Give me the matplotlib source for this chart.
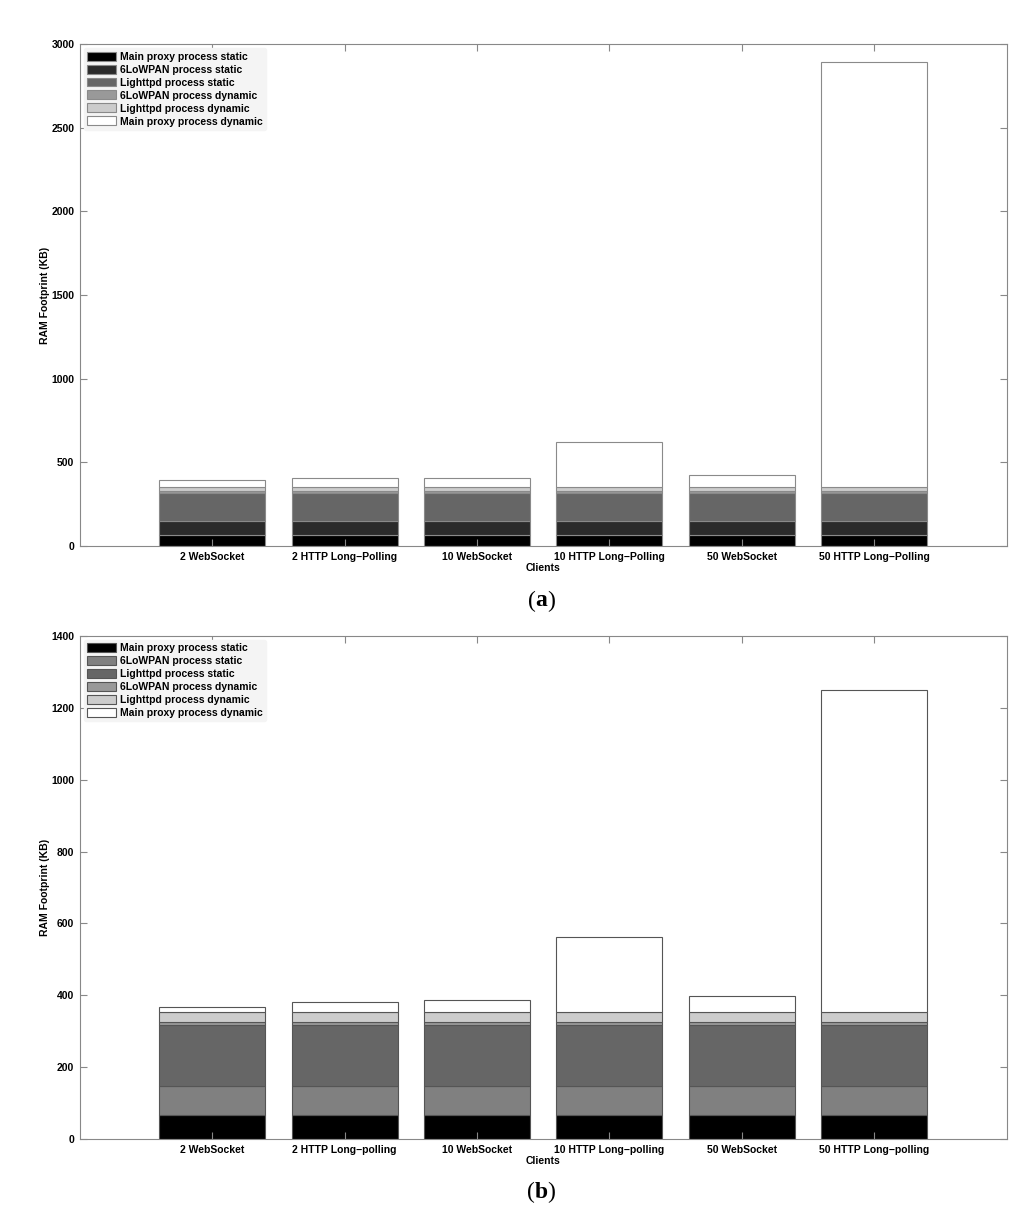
"""Stacked RAM footprint bars for the two proxy set-ups (a) and (b)."""

import matplotlib.pyplot as plt
import numpy as np

plt.rcParams["font.family"] = ["Liberation Sans", "DejaVu Sans"]

layers = [
    "Main proxy process static",
    "6LoWPAN process static",
    "Lighttpd process static",
    "6LoWPAN process dynamic",
    "Lighttpd process dynamic",
    "Main proxy process dynamic",
]

clients_a = ["2 WebSocket", "2 HTTP Long\u2212Polling", "10 WebSocket",
             "10 HTTP Long\u2212Polling", "50 WebSocket", "50 HTTP Long\u2212Polling"]
clients_b = ["2 WebSocket", "2 HTTP Long\u2212polling", "10 WebSocket",
             "10 HTTP Long\u2212polling", "50 WebSocket", "50 HTTP Long\u2212polling"]

# KB per layer, one value per client scenario
main_static_a = [66, 66, 66, 66, 66, 66]
lowpan_static_a = [82, 82, 82, 82, 82, 82]
lighttpd_static_a = [171, 171, 171, 171, 171, 171]
lowpan_dynamic_a = [7, 7, 7, 7, 7, 7]
lighttpd_dynamic_a = [25, 25, 25, 25, 25, 25]
main_dynamic_a = [42, 57, 57, 272, 75, 2542]

main_static_b = [67, 67, 67, 67, 67, 67]
lowpan_static_b = [82, 82, 82, 82, 82, 82]
lighttpd_static_b = [169, 169, 169, 169, 169, 169]
lowpan_dynamic_b = [8, 8, 8, 8, 8, 8]
lighttpd_dynamic_b = [28, 28, 28, 28, 28, 28]
main_dynamic_b = [13, 27, 32, 207, 45, 896]

colors_a = ["#000000", "#2b2b2b", "#666666", "#999999", "#cccccc", "#ffffff"]
colors_b = ["#000000", "#808080", "#666666", "#999999", "#cccccc", "#ffffff"]


def draw_panel(ax, labels, series, colors, ymax, ystep, edge):
    x = np.arange(1, len(labels) + 1)
    bottom = np.zeros(len(labels))
    for name, vals, col in zip(layers, series, colors):
        vals = np.asarray(vals, dtype=float)
        ax.bar(x, vals, 0.8, bottom=bottom, color=col, edgecolor=edge,
               linewidth=0.8, label=name)
        bottom += vals
    ax.set_xlim(0, 7)
    ax.set_ylim(0, ymax)
    ax.set_xticks(x)
    ax.set_xticklabels(labels, fontsize=7.5, fontweight="bold")
    ax.set_yticks(np.arange(0, ymax + 1, ystep))
    for t in ax.get_yticklabels():
        t.set_fontsize(7.5)
        t.set_fontweight("bold")
    ax.tick_params(direction="in", top=True, right=True, length=5,
                   color="#888888", pad=4)
    for s in ax.spines.values():
        s.set_color("#888888")
        s.set_linewidth(0.8)
    ax.set_xlabel("Clients", fontsize=7.5, fontweight="bold", labelpad=1)
    ax.set_ylabel("RAM Footprint (KB)", fontsize=7.5, fontweight="bold",
                  labelpad=1)
    leg = ax.legend(loc="upper left", fontsize=7.5, frameon=True,
                    borderaxespad=0.4, handlelength=2.8, handleheight=0.95,
                    labelspacing=0.28, borderpad=0.3, handletextpad=0.4)
    leg.get_frame().set_facecolor("#f4f4f4")
    leg.get_frame().set_edgecolor("#f4f4f4")
    leg.get_frame().set_alpha(1)
    for t in leg.get_texts():
        t.set_fontweight("bold")


fig = plt.figure(figsize=(10.24, 12.12), dpi=100)
ax_a = fig.add_axes([0.078, 0.5495, 0.905, 0.414])
ax_b = fig.add_axes([0.078, 0.0602, 0.905, 0.415])

draw_panel(ax_a, clients_a,
           [main_static_a, lowpan_static_a, lighttpd_static_a,
            lowpan_dynamic_a, lighttpd_dynamic_a, main_dynamic_a],
           colors_a, 3000, 500, "#8a8a8a")
draw_panel(ax_b, clients_b,
           [main_static_b, lowpan_static_b, lighttpd_static_b,
            lowpan_dynamic_b, lighttpd_dynamic_b, main_dynamic_b],
           colors_b, 1400, 200, "#555555")

fig.text(0.523, 1 - 601 / 1212, "(", family="Liberation Serif", fontsize=17,
         ha="right", va="center")
fig.text(0.523, 1 - 601 / 1212, "a", family="Liberation Serif", fontsize=17,
         fontweight="bold", ha="left", va="center")
fig.text(0.534, 1 - 601 / 1212, ")", family="Liberation Serif", fontsize=17,
         ha="left", va="center")
fig.text(0.5225, 1 - 1192 / 1212, "(", family="Liberation Serif", fontsize=17,
         ha="right", va="center")
fig.text(0.5225, 1 - 1192 / 1212, "b", family="Liberation Serif", fontsize=17,
         fontweight="bold", ha="left", va="center")
fig.text(0.5345, 1 - 1192 / 1212, ")", family="Liberation Serif", fontsize=17,
         ha="left", va="center")

fig.savefig("out.png", dpi=100)
